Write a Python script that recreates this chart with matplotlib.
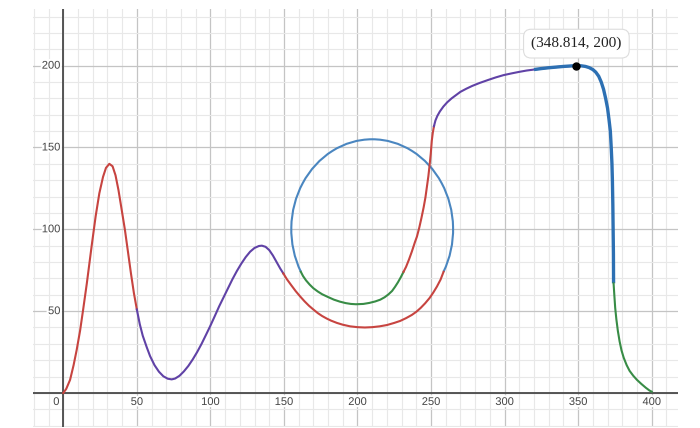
import numpy as np
import matplotlib.pyplot as plt
from matplotlib.patches import Arc
import matplotlib.patheffects as pe

# Kurven
red1_x = [0, 2, 4.6, 7, 9.1, 11.4, 13.5, 16, 19.3, 22, 24.5, 27, 29, 31.3, 33.5, 35.5, 37.5, 39.5, 41.9, 44, 46, 48, 50]
red1_y = [0, 2.5, 8, 17, 26.3, 38, 51, 67, 90, 108, 122, 132, 137.5, 140, 138.5, 133, 124, 113, 99.6, 86, 73, 61, 51]

purple1_x = [50, 52, 54, 56.7, 59, 62, 65, 68, 71, 73.7, 76, 79, 82, 85, 88, 91, 94, 97, 99.7, 103, 106, 109, 112,
             115, 118, 121, 124, 127, 130, 133, 135, 137.5, 140, 142.5, 145, 147.5, 149.6]
purple1_y = [51, 42, 35, 28, 22.5, 17, 13, 10.2, 8.7, 8.3, 8.8, 10.5, 13.2, 16.5, 20.5, 25, 30, 35.5, 40.5, 47, 53,
             58.5, 64, 69.5, 74.5, 79, 83, 86.3, 88.6, 89.8, 90, 89.3, 87.3, 84, 80, 76, 73]

red2_x = [149.6, 152, 155, 158, 161, 164, 167, 170, 173, 176, 179, 182, 186, 190, 195, 200, 205, 210, 215, 220,
          225, 229, 233, 237, 240, 243, 246, 249, 251.5, 254, 256.5, 258.5]
red2_y = [73, 69.5, 65.8, 62.2, 59, 56, 53.3, 51, 48.8, 47, 45.5, 44.2, 42.8, 41.7, 40.7, 40.2, 40, 40.2, 40.7, 41.5,
          42.8, 44, 45.7, 47.7, 49.6, 52, 54.8, 58, 61.3, 65, 69.3, 74]

green1_x = [161.5, 163, 165, 167.5, 170, 173, 176, 180, 184, 188, 192, 195.5, 199, 204, 208, 212, 215.5, 218.5, 221,
            223.5, 225.5, 227.5, 229.5, 231.3]
green1_y = [74, 71.4, 68.8, 66.2, 64, 62, 60.3, 58.6, 57, 55.8, 54.9, 54.4, 54.2, 54.4, 55, 55.9, 57, 58.5, 60.2,
            62.3, 64.8, 67.6, 70.8, 74]

red3_x = [231.3, 233, 235, 237, 239, 240.4, 242, 243.5, 245, 246.2, 247.2, 248.2, 249, 249.8, 250.5, 251.2, 252]
red3_y = [74, 77, 81.5, 86.5, 92, 95.5, 101, 107, 113.5, 119.5, 126, 132.5, 139, 146, 154, 159, 163]

purple2_x = [252, 253, 254.3, 256, 258.4, 261, 264, 267, 270, 274, 278, 283, 289, 294, 299.3, 305, 310, 315, 320,
             325, 330, 335, 340, 345, 349]
purple2_y = [163, 166.5, 169.3, 172, 175, 177.6, 180, 182, 184, 185.9, 187.6, 189.4, 191.3, 192.8, 194.2, 195.3,
             196.2, 197, 197.6, 198.2, 198.7, 199.1, 199.5, 199.8, 200]

blue_x = [320, 325, 330, 335, 340, 345, 349, 352, 355, 357.5, 360, 362, 364, 365.7, 367.3, 368.7, 370, 371, 371.9,
          372.5, 373, 373.3, 373.6, 373.8, 374, 374.1]
blue_y = [197.6, 198.2, 198.7, 199.1, 199.5, 199.8, 200, 199.9, 199.5, 198.8, 197.6, 196, 193.5, 190, 185.5, 180,
          174, 167, 160, 150, 140, 130, 115, 100, 85, 67]

green2_x = [374.1, 374.6, 375.2, 376, 377, 378.2, 379.5, 381, 383, 385, 387.5, 390, 393, 396, 398.5, 400]
green2_y = [67, 60, 52, 45, 38, 31.5, 26, 21.5, 17, 13.5, 10.5, 8, 5.5, 3.2, 1.5, 0.8]

# Kreis
kreis_mitte = (210, 100)
kreis_r = 55
kreis_winkel = (-28.2, 208.2)

punkt = (348.814, 200)
xticks = [50, 100, 150, 200, 250, 300, 350, 400]
yticks = [50, 100, 150, 200]

rot = '#c74440'
lila = '#6042a6'
gruen = '#388c46'
blau = '#2d70b3'

fig = plt.figure(figsize=(7, 4.28), dpi=100)
ax = fig.add_axes([33/700, 1/428, 645/700, 418/428])
ax.set_xlim(-20.6, 417.9)
ax.set_ylim(-20.8, 234.6)

ax.set_xticks(np.arange(0, 420, 50))
ax.set_xticks(np.arange(-20, 420, 10), minor=True)
ax.set_yticks(np.arange(0, 240, 50))
ax.set_yticks(np.arange(-20, 240, 10), minor=True)
ax.grid(which='major', color='#c4c4c4', lw=0.9)
ax.grid(which='minor', color='#e8e8e8', lw=0.8)
ax.tick_params(which='both', length=0, labelbottom=False, labelleft=False)
for s in ax.spines.values():
    s.set_visible(False)
ax.set_axisbelow(True)

ax.axhline(0, color='#4a4a4a', lw=1.3, zorder=1)
ax.axvline(0, color='#4a4a4a', lw=1.3, zorder=1)

halo = [pe.withStroke(linewidth=3, foreground='white')]
tick_style = dict(fontsize=8, color='#444444', family='Liberation Sans', path_effects=halo)
for t in xticks:
    ax.annotate(str(t), (t, 0), xytext=(0, -9), textcoords='offset pixels',
                ha='center', va='center', **tick_style)
ax.annotate('0', (0, 0), xytext=(-7, -9), textcoords='offset pixels',
            ha='center', va='center', **tick_style)
for t in yticks:
    ax.annotate(str(t), (0, t), xytext=(-3, 0), textcoords='offset pixels',
                ha='right', va='center', **tick_style)

lw = 1.5
ax.plot(red1_x, red1_y, color=rot, lw=lw)
ax.plot(purple1_x, purple1_y, color=lila, lw=lw)
ax.plot(red2_x, red2_y, color=rot, lw=lw)
ax.plot(green1_x, green1_y, color=gruen, lw=lw)
ax.plot(red3_x, red3_y, color=rot, lw=lw)
ax.plot(purple2_x, purple2_y, color=lila, lw=lw)
ax.plot(blue_x, blue_y, color=blau, lw=2.4, solid_capstyle='butt')
ax.plot(green2_x, green2_y, color=gruen, lw=lw)
ax.add_patch(Arc(kreis_mitte, 2*kreis_r, 2*kreis_r, theta1=kreis_winkel[0],
                 theta2=kreis_winkel[1], color='#4a86c0', lw=lw))

ax.plot(*punkt, 'o', color='black', ms=5, zorder=5)
ax.annotate('(348.814, 200)', punkt, xytext=(0, 22), textcoords='offset pixels',
            ha='center', va='center', fontsize=11, family='Liberation Serif',
            color='#222222',
            bbox=dict(boxstyle='round,pad=0.5', fc='white', ec='#dddddd', lw=0.8))

plt.savefig('out.png', dpi=100)
